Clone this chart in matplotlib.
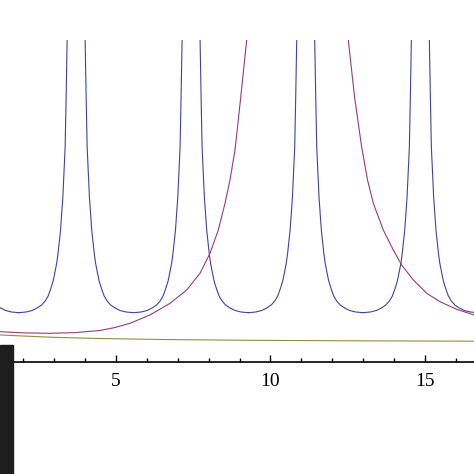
import numpy as np
import matplotlib
matplotlib.use("Agg")
from matplotlib import pyplot as plt
from matplotlib.patches import Rectangle

# blue curve: one peak profile (offset from peak centre, height)
peak_centres = [0.0, 3.71, 7.43, 11.14, 14.85, 18.56]
blue_offset = [0.259, 0.291, 0.324, 0.356, 0.430, 0.505, 0.585, 0.628, 0.672, 0.744,
               0.825, 0.906, 1.003, 1.117, 1.262, 1.424, 1.618, 1.858]
blue_height = [11.86, 10.0, 8.230, 6.677, 5.124, 4.099, 3.385, 3.075, 2.857, 2.516,
               2.267, 2.050, 1.894, 1.770, 1.677, 1.599, 1.553, 1.531]

# magenta curve, two branches either side of its pole
mag_left_x = [1.246, 2.055, 2.864, 3.673, 4.482, 4.968, 5.453, 6.100, 6.748, 7.288,
              7.718, 8.042, 8.311, 8.528, 8.689, 8.851, 8.958, 9.094, 9.230, 9.304]
mag_left_y = [0.941, 0.904, 0.891, 0.913, 0.978, 1.071, 1.202, 1.460, 1.823, 2.236,
              2.754, 3.375, 4.099, 4.929, 5.652, 6.584, 7.516, 8.75, 10.0, 10.7]
mag_right_x = [12.44, 12.518, 12.720, 12.950, 13.140, 13.327, 13.650, 13.974, 14.246,
               14.621, 15.055, 15.485, 16.026, 16.586]
mag_right_y = [11.86, 10.0, 8.230, 6.677, 5.652, 4.929, 4.099, 3.478, 3.012,
               2.547, 2.133, 1.873, 1.636, 1.460]

# olive curve
yel_x = [1.246, 2.961, 4.482, 6.424, 9.337, 12.573, 16.586]
yel_y = [0.839, 0.767, 0.730, 0.699, 0.674, 0.658, 0.646]

blue = (0.26, 0.26, 0.62)
magenta = (0.6, 0.24, 0.4428)
olive = (0.6, 0.547, 0.24)

fig = plt.figure(figsize=(4.74, 4.74), dpi=100)
ax = fig.add_axes([0.0, 112 / 474, 1.0, 322 / 474])

off = np.array(blue_offset)
h = np.array(blue_height)
for c, c_next in zip(peak_centres[:-1], peak_centres[1:]):
    vx = np.concatenate([c + off, (c_next - off)[::-1]])
    vy = np.concatenate([h, h[::-1]])
    ax.plot(vx, vy, color=blue, lw=0.8)

ax.plot(mag_left_x, mag_left_y, color=magenta, lw=0.8)
ax.plot(mag_right_x, mag_right_y, color=magenta, lw=0.8)
ax.plot(yel_x, yel_y, color=olive, lw=0.8)

ax.set_xlim(1.246, 16.586)
ax.set_ylim(0, 10)
for s in ["top", "right", "left"]:
    ax.spines[s].set_visible(False)
ax.spines["bottom"].set_linewidth(1.2)
ax.set_yticks([])
ax.set_xticks([5, 10, 15])
ax.set_xticks(range(2, 17), minor=True)
ax.tick_params(axis="x", which="major", direction="in", length=5, width=1, pad=8,
               labelsize=14, labelfontfamily="Liberation Serif")
ax.tick_params(axis="x", which="minor", direction="in", length=3, width=1)
ax.patch.set_visible(False)

# dark strip in the bottom-left corner of the picture
fig.patches.append(Rectangle((0, 0), 13 / 474, 129 / 474, transform=fig.transFigure,
                             color="#1e1e1e", zorder=10))

fig.savefig("out.png", dpi=100)
